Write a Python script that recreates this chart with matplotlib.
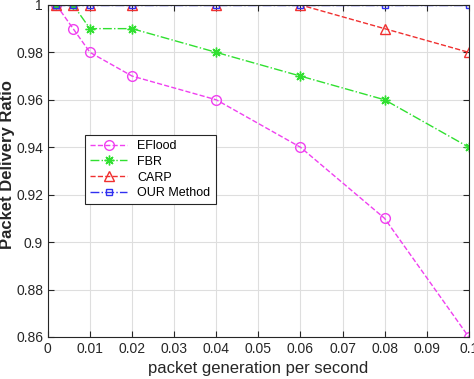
import matplotlib.pyplot as plt

plt.rcParams['font.family'] = ['Liberation Sans', 'DejaVu Sans']

# packet generation rate (packets per second)
rate = [0.002, 0.006, 0.01, 0.02, 0.04, 0.06, 0.08, 0.1]

eflood = [1.0, 0.99, 0.98, 0.97, 0.96, 0.94, 0.91, 0.86]
fbr = [1.0, 1.0, 0.99, 0.99, 0.98, 0.97, 0.96, 0.94]
carp = [1.0, 1.0, 1.0, 1.0, 1.0, 1.0, 0.99, 0.98]
ours = [1.0, 1.0, 1.0, 1.0, 1.0, 1.0, 1.0, 1.0]

fig = plt.figure(figsize=(4.74, 3.79), dpi=100)
ax = fig.add_axes([0.101, 0.111, 0.888, 0.876])

ax.plot(rate, eflood, '--', marker='o', color='#f040f0', mfc='none', ms=7, lw=1, label='EFlood')
ax.plot(rate, fbr, '-.', marker=(8, 2, 0), color='#30e030', ms=7, lw=1, label='FBR')
ax.plot(rate, carp, '--', marker='^', color='#f03030', mfc='none', ms=7, lw=1, label='CARP')
ax.plot(rate, ours, '-.', marker='s', color='#3030f0', mfc='none', ms=5, lw=1, label='OUR Method')

ax.set_xlim(0, 0.1)
ax.set_ylim(0.86, 1.0)
ax.set_xticks([0, 0.01, 0.02, 0.03, 0.04, 0.05, 0.06, 0.07, 0.08, 0.09, 0.1])
ax.set_xticklabels(['0', '0.01', '0.02', '0.03', '0.04', '0.05', '0.06', '0.07', '0.08', '0.09', '0.1'])
ax.set_yticks([0.86, 0.88, 0.9, 0.92, 0.94, 0.96, 0.98, 1.0])
ax.set_yticklabels(['0.86', '0.88', '0.9', '0.92', '0.94', '0.96', '0.98', '1'])
ax.tick_params(direction='in', labelsize=10, colors='#262626', top=True, right=True, length=4)
ax.grid(True, color='#dedede', lw=0.8)
for s in ax.spines.values():
    s.set_color('#262626')

ax.set_xlabel('packet generation per second', fontsize=12, color='#262626', labelpad=4)
ax.set_ylabel('Packet Delivery Ratio', fontsize=12, fontweight='bold', color='#262626')
ax.yaxis.set_label_coords(-0.078, 0.52)

leg = ax.legend(loc='upper left', bbox_to_anchor=(0.088, 0.608), fontsize=9,
                fancybox=False, framealpha=1, edgecolor='#262626',
                handlelength=3, borderpad=0.4, labelspacing=0.3, borderaxespad=0)
leg.get_frame().set_linewidth(0.8)

fig.savefig('out.png', dpi=100)
